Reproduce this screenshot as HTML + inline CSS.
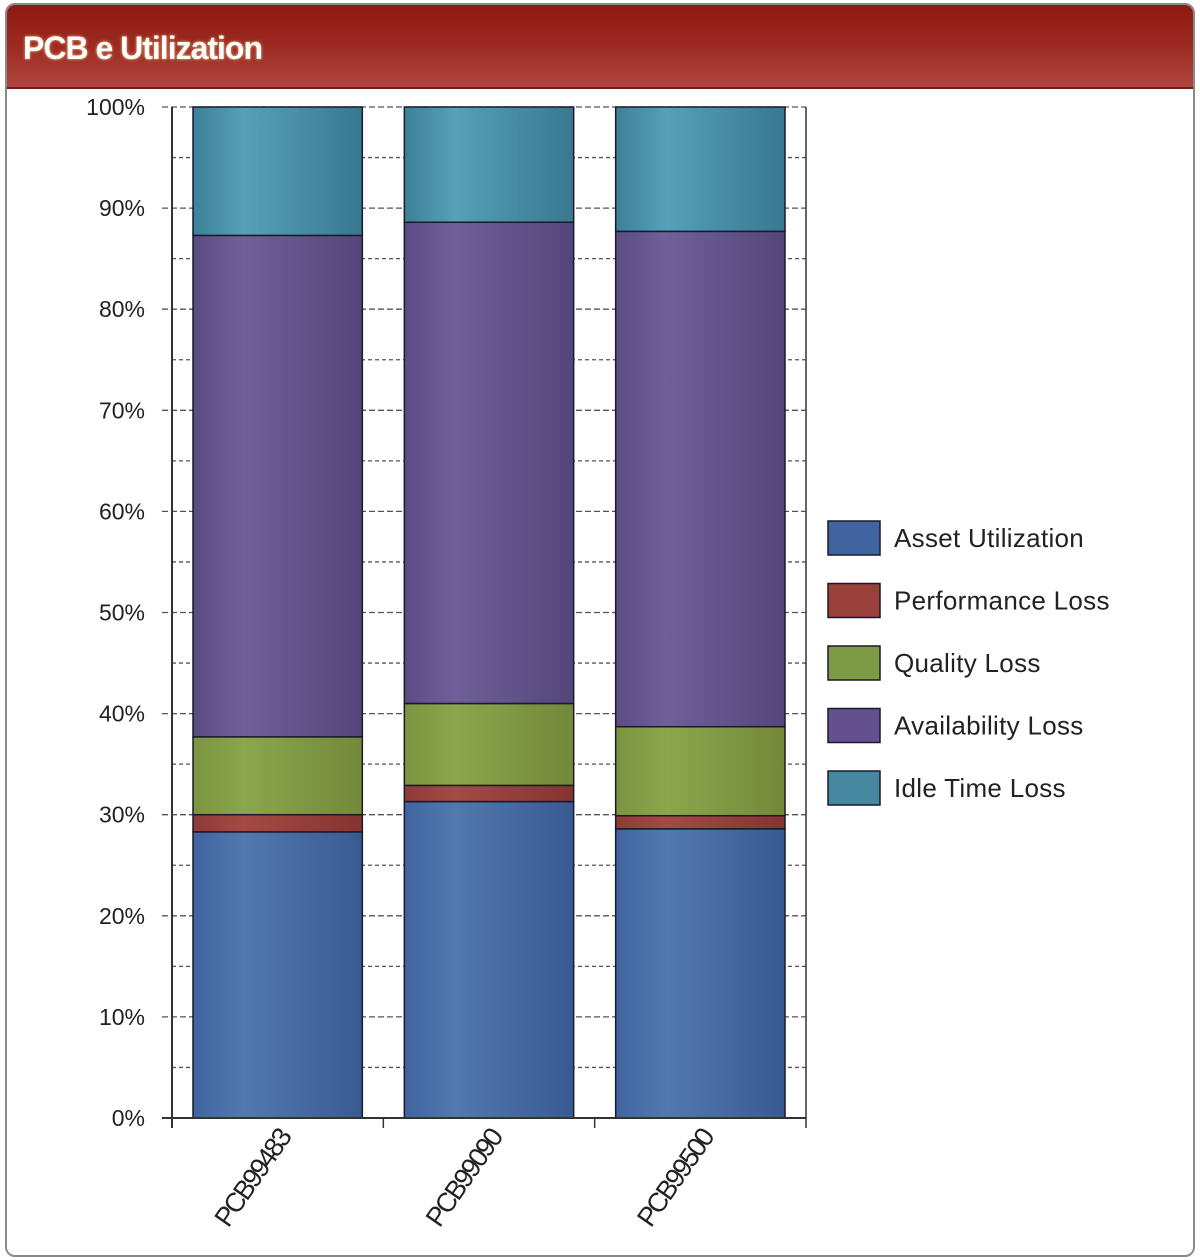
<!DOCTYPE html>
<html><head><meta charset="utf-8"><style>
body{margin:0;background:#fff;font-family:"Liberation Sans","DejaVu Sans",sans-serif}
#card{position:absolute;left:5px;top:3px;width:1186px;height:1250px;border:2px solid #8a8a8a;border-radius:10px;overflow:hidden;background:#fff}
#hdr{position:absolute;left:0;top:0;width:100%;height:82px;background:linear-gradient(#8e1a12,#9c2a22 50%,#b0463e);border-bottom:2px solid #7a1a14}
#ttl{position:absolute;left:16px;top:25px;color:#fff;font-size:32px;font-weight:bold;letter-spacing:-1px;text-shadow:0 0 3px #f2b070}
svg{position:absolute;left:0;top:0}
</style></head><body>
<div id="card">
<div id="hdr"><div id="ttl">PCB e Utilization</div></div>
</div>
<svg id="chart" width="1200" height="1260">
<defs>
<linearGradient id="gA" x1="0" x2="1"><stop offset="0" stop-color="#3f64a0"/><stop offset=".3" stop-color="#5279ae"/><stop offset="1" stop-color="#375a92"/></linearGradient>
<linearGradient id="gP" x1="0" x2="1"><stop offset="0" stop-color="#8e3a36"/><stop offset=".3" stop-color="#a44a44"/><stop offset="1" stop-color="#85332f"/></linearGradient>
<linearGradient id="gQ" x1="0" x2="1"><stop offset="0" stop-color="#7a9440"/><stop offset=".3" stop-color="#8ca64c"/><stop offset="1" stop-color="#72893a"/></linearGradient>
<linearGradient id="gV" x1="0" x2="1"><stop offset="0" stop-color="#5c4c86"/><stop offset=".3" stop-color="#705f98"/><stop offset="1" stop-color="#54467a"/></linearGradient>
<linearGradient id="gI" x1="0" x2="1"><stop offset="0" stop-color="#3d8098"/><stop offset=".3" stop-color="#56a0b8"/><stop offset="1" stop-color="#387890"/></linearGradient>
</defs>
</svg>
<script>
const categories=["PCB99483","PCB99090","PCB99500"];
const seriesNames=["Asset Utilization","Performance Loss","Quality Loss","Availability Loss","Idle Time Loss"];
const asset=[28.3,31.3,28.6];
const perf=[1.7,1.6,1.3];
const quality=[7.7,8.1,8.8];
const avail=[49.6,47.6,49.0];
const idle=[12.7,11.4,12.3];
const yTicks=["0%","10%","20%","30%","40%","50%","60%","70%","80%","90%","100%"];
const series=[asset,perf,quality,avail,idle];
const fills=["url(#gA)","url(#gP)","url(#gQ)","url(#gV)","url(#gI)"];
const legFill=["#3f64a0","#9a403b","#7f9a44","#62518e","#4588a0"];
const NS="http://www.w3.org/2000/svg";
const svg=document.getElementById('chart');
const X0=172,X1=806,Y0=1118,Y1=107;
const y=v=>Y0-(v/100)*(Y0-Y1);
const cw=(X1-X0)/categories.length;
const x=i=>X0+cw*i;
function mk(t,a){const e=document.createElementNS(NS,t);for(const k in a)e.setAttribute(k,a[k]);svg.appendChild(e);return e;}
for(let v=0;v<=100;v+=5){
 const g=mk('line',{x1:X0-(v%10?0:10),x2:X1,y1:y(v),y2:y(v),stroke:'#555','stroke-width':1.3,'stroke-dasharray':v%10?'4,3':'6,3'});
 
 
}
categories.forEach((c,i)=>{
 let base=0;const bx=x(i)+21,bw=cw-42;
 series.forEach((s,j)=>{
  const r=mk('rect',{x:bx,y:y(base+s[i]),width:bw,height:y(base)-y(base+s[i]),fill:fills[j],stroke:'#1a1a2a','stroke-width':1.5});
  
  
  base+=s[i];
 });
 const t=mk('text',{x:0,y:0,'font-size':27,fill:'#222','text-anchor':'end',transform:`translate(${x(i)+cw/2+14},${Y0+20}) rotate(-55)`,'letter-spacing':'-2.5'});
 t.textContent=c;
 
 
});
mk('line',{x1:X0,x2:X0,y1:Y1,y2:Y0+10,stroke:'#333','stroke-width':2});
mk('line',{x1:X1,x2:X1,y1:Y1,y2:Y0+10,stroke:'#333','stroke-width':1.5});
mk('line',{x1:X0-10,x2:X1,y1:Y0,y2:Y0,stroke:'#333','stroke-width':2});
for(let i=1;i<categories.length;i++)mk('line',{x1:x(i),x2:x(i),y1:Y0,y2:Y0+10,stroke:'#333','stroke-width':1.5});
yTicks.forEach((l,i)=>{
 const t=mk('text',{x:145,y:y(i*10)+8,'font-size':23,fill:'#222','text-anchor':'end'});
 t.textContent=l;
 
 
});
seriesNames.forEach((n,j)=>{
 const ly=538+j*62.5;
 const r=mk('rect',{x:828,y:ly-17,width:52,height:34,fill:legFill[j],stroke:'#1a1a2a','stroke-width':1.5});
 
 
 const t=mk('text',{x:894,y:ly+9,'font-size':26,fill:'#222','letter-spacing':'0.3'});
 t.textContent=n;
 
 
});
</script>
</body></html>
